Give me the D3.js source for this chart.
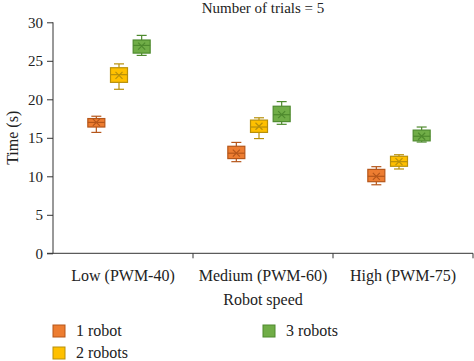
<!DOCTYPE html>
<html><head><meta charset="utf-8">
<script src="https://cdn.jsdelivr.net/npm/d3@7"></script>
<style>body{margin:0;background:#fff}svg{display:block}svg text{font-family:"Liberation Serif","DejaVu Serif",serif !important;fill:#222}</style>
</head><body><svg id="c" width="474" height="361"></svg>
<script>
const categories = ["Low (PWM-40)", "Medium (PWM-60)", "High (PWM-75)"];
const series = ["1 robot", "2 robots", "3 robots"];
const colors = ["#ED7D31", "#FFC000", "#70AD47"];
const strokes = ["#B5561A", "#B8900A", "#4E8A2E"];
// [whiskerLow, q1, median, q3, whiskerHigh, mean] per category for each series
const robot1 = [[15.7,16.4,17.0,17.5,17.8,17.0],[11.9,12.3,13.0,13.9,14.4,13.0],[8.9,9.3,10.0,10.9,11.25,10.0]];
const robot2 = [[21.3,22.2,23.2,24.1,24.6,23.1],[14.9,15.7,16.4,17.3,17.6,16.5],[10.95,11.3,11.9,12.6,12.8,11.9]];
const robot3 = [[25.7,26.0,27.0,27.7,28.3,26.9],[16.75,17.1,18.0,19.1,19.7,18.0],[14.45,14.6,15.2,16.0,16.4,15.2]];
const yTicks = [0,5,10,15,20,25,30];
const title = "Number of trials = 5";

const data = [robot1, robot2, robot3];
const svg = d3.select("#c");
const m = {l:53, r:473, t:22.3, b:253.3};
const x = d3.scaleBand().domain(categories).range([m.l, m.r]);
const y = d3.scaleLinear().domain([0,30]).range([m.b, m.t]);
const inner = d3.scaleBand().domain(series).range([-38, 30]);
const bw = 17;

// axes
const ya = svg.append("g").attr("transform",`translate(${m.l},0)`)
  .call(d3.axisLeft(y).tickValues(yTicks).tickSize(6).tickPadding(4));
ya.attr("font-family", null);
ya.selectAll("text").style("font-size","15px").attr("fill","#222");
ya.selectAll("line,path").attr("stroke","#333");
ya.select(".domain").attr("d",`M0,${m.b}V${m.t}`);

const xa = svg.append("g").attr("transform",`translate(0,${m.b})`);
xa.append("line").attr("x1",m.l-6).attr("x2",m.r).attr("stroke","#333");
categories.forEach(c=>{
  xa.append("line").attr("x1",x(c)+x.bandwidth()).attr("x2",x(c)+x.bandwidth()).attr("y2",5).attr("stroke","#333");
  xa.append("text").attr("x",x(c)+x.bandwidth()/2).attr("y",28).attr("text-anchor","middle").style("font-size","16px").text(c);
});
svg.append("text").attr("x",(m.l+m.r)/2).attr("y",305).attr("text-anchor","middle").style("font-size","16px").text("Robot speed");
svg.append("text").attr("transform",`translate(18,${(m.t+m.b)/2}) rotate(-90)`).attr("text-anchor","middle").style("font-size","16px").text("Time (s)");
svg.append("text").attr("x",263).attr("y",13).attr("text-anchor","middle").style("font-size","15px").text(title);

// boxes
series.forEach((s,si)=>{
  categories.forEach((c,ci)=>{
    const d = data[si][ci];
    const cx = x(c)+x.bandwidth()/2+inner(s)+inner.bandwidth()/2;
    const g = svg.append("g").attr("stroke",strokes[si]).attr("stroke-width",1.2);
    g.append("line").attr("x1",cx).attr("x2",cx).attr("y1",y(d[0])).attr("y2",y(d[1]));
    g.append("line").attr("x1",cx).attr("x2",cx).attr("y1",y(d[3])).attr("y2",y(d[4]));
    g.append("line").attr("x1",cx-5).attr("x2",cx+5).attr("y1",y(d[0])).attr("y2",y(d[0]));
    g.append("line").attr("x1",cx-5).attr("x2",cx+5).attr("y1",y(d[4])).attr("y2",y(d[4]));
    g.append("rect").attr("x",cx-bw/2).attr("width",bw).attr("y",y(d[3])).attr("height",y(d[1])-y(d[3])).attr("fill",colors[si]);
    g.append("line").attr("x1",cx-bw/2).attr("x2",cx+bw/2).attr("y1",y(d[2])).attr("y2",y(d[2]));
    const my = y(d[5]);
    g.append("path").attr("d",`M${cx-3.5},${my-3.5}L${cx+3.5},${my+3.5}M${cx-3.5},${my+3.5}L${cx+3.5},${my-3.5}`);
  });
});

// legend
const legPos = [[53,331],[53,353],[263,331]];
series.forEach((s,i)=>{
  const [lx,ly] = legPos[i];
  svg.append("rect").attr("x",lx).attr("y",ly-6).attr("width",12).attr("height",12).attr("fill",colors[i]).attr("stroke",strokes[i]);
  svg.append("text").attr("x",lx+23).attr("y",ly+5).style("font-size","16px").text(s);
});
</script></body></html>
